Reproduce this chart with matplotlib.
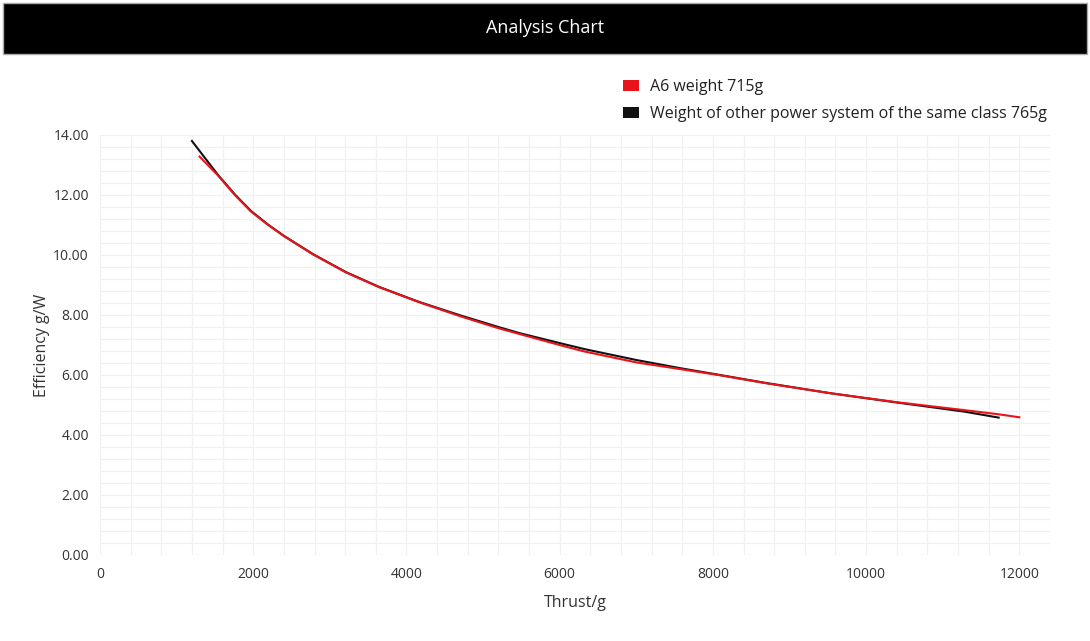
import matplotlib
matplotlib.use("Agg")
import matplotlib.pyplot as plt
from matplotlib.patches import Patch, Rectangle
from matplotlib.ticker import MultipleLocator, FormatStrFormatter

plt.rcParams['font.family'] = ['Open Sans', 'DejaVu Sans']

# Data
thrust_red = [1300, 1540, 1760, 1970, 2190, 2400, 2780, 3210, 3640, 4160, 4700, 5200,
              5470, 6070, 6330, 7000, 7590, 8070, 8680, 9540, 10410, 11280, 11730, 12000]
eff_red = [13.28, 12.65, 12.00, 11.45, 11.01, 10.63, 10.02, 9.42, 8.93, 8.43, 7.96, 7.56,
           7.37, 6.95, 6.78, 6.42, 6.19, 6.00, 5.73, 5.39, 5.09, 4.83, 4.69, 4.59]

thrust_black = [1200, 1540, 1760, 1970, 2190, 2400, 2780, 3210, 3640, 4160, 4700, 5200,
                5470, 6070, 6330, 7000, 7590, 8070, 8680, 9540, 10410, 11280, 11730]
eff_black = [13.80, 12.67, 12.02, 11.47, 11.02, 10.64, 10.03, 9.43, 8.94, 8.44, 7.99, 7.60,
             7.40, 7.02, 6.86, 6.50, 6.22, 6.01, 5.74, 5.39, 5.08, 4.78, 4.58]

label_red = "A6 weight 715g"
label_black = "Weight of other power system of the same class 765g"
red = "#e8141a"
black = "#111111"

fig = plt.figure(figsize=(10.9, 6.41), dpi=100)

# title bar
fig.patches.append(Rectangle((0.003, 1 - 54 / 641), 0.994, 51 / 641,
                             transform=fig.transFigure, facecolor="black",
                             edgecolor="#aaaaaa", linewidth=1))
fig.text(0.5, 1 - 28 / 641, "Analysis Chart", color="white", fontsize=13,
         ha="center", va="center")

ax = fig.add_axes([100 / 1090, 86 / 641, 950 / 1090, 420 / 641])
ax.plot(thrust_black, eff_black, color=black, linewidth=1.5, zorder=3)
ax.plot(thrust_red, eff_red, color=red, linewidth=1.5, zorder=4)

ax.set_xlim(0, 12400)
ax.set_ylim(0, 14)
ax.xaxis.set_major_locator(MultipleLocator(2000))
ax.xaxis.set_minor_locator(MultipleLocator(400))
ax.yaxis.set_major_locator(MultipleLocator(2))
ax.yaxis.set_minor_locator(MultipleLocator(0.4))
ax.yaxis.set_major_formatter(FormatStrFormatter("%.2f"))
ax.grid(which="both", color="#f0f0f0", linewidth=0.9)
ax.set_axisbelow(True)
for s in ax.spines.values():
    s.set_visible(False)
ax.tick_params(which="both", length=0, labelsize=10, labelcolor="#333333")
ax.tick_params(axis="y", pad=8)
ax.tick_params(axis="x", pad=9)

ax.set_xlabel("Thrust/g", fontsize=11.5, color="#333333", labelpad=9)
ax.set_ylabel("Efficiency g/W", fontsize=11.5, color="#333333", labelpad=2)

handles = [Patch(facecolor=red, label=label_red),
           Patch(facecolor=black, label=label_black)]
fig.legend(handles=handles, loc="upper left", bbox_to_anchor=(615 / 1090, 1 - 71 / 641),
           frameon=False, fontsize=11.5, handlelength=1.0, handleheight=0.65,
           handletextpad=0.7, labelspacing=0.68, borderpad=0, labelcolor="#222222")

fig.savefig("out.png", dpi=100, facecolor="white")
